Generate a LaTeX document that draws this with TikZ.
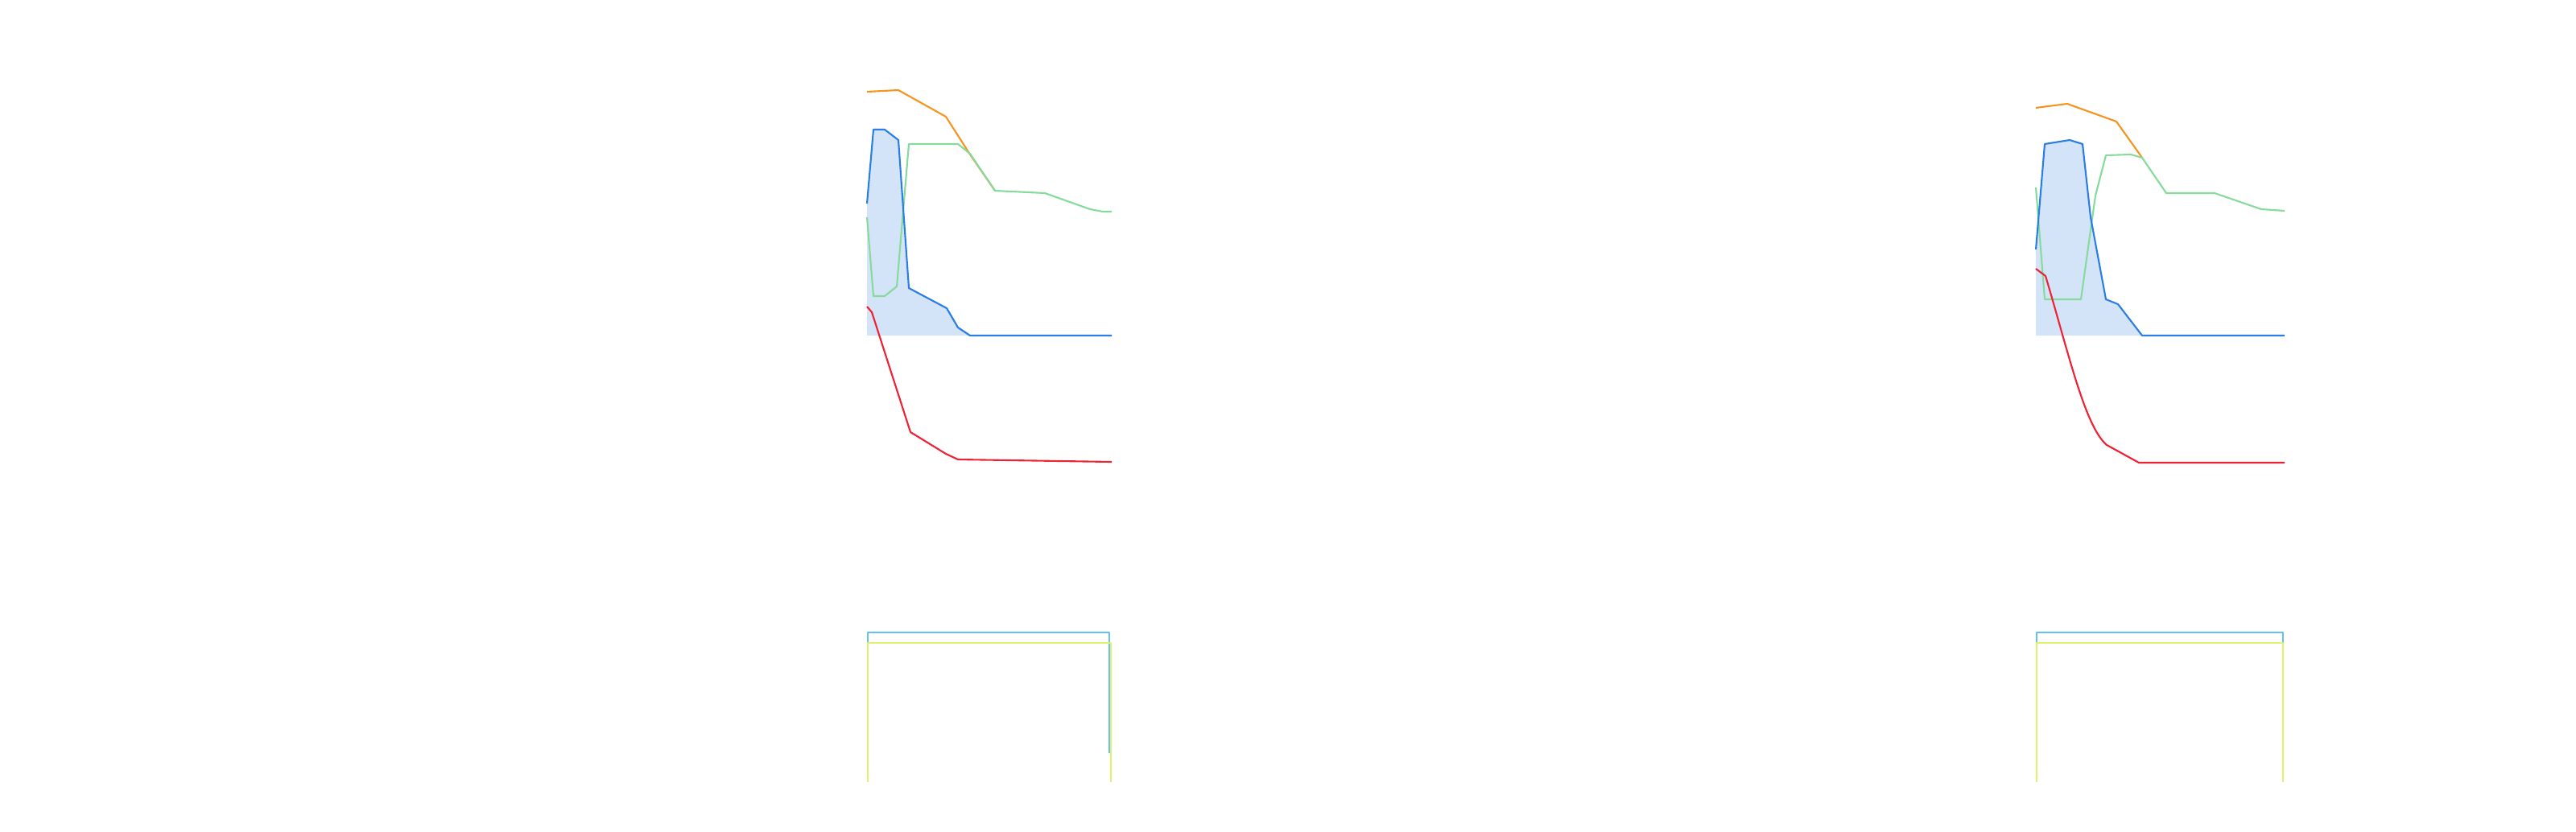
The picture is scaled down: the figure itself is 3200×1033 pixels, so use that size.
\documentclass[tikz,border=0pt]{standalone}
\definecolor{cor}{HTML}{F7931E}
\definecolor{cgr}{HTML}{86DB9C}
\definecolor{cbl}{HTML}{2B7DE6}
\definecolor{cfl}{HTML}{D3E4F9}
\definecolor{crd}{HTML}{EE2233}
\definecolor{clb}{HTML}{62C2F4}
\definecolor{cye}{HTML}{DFF26E}
\begin{document}
\begin{tikzpicture}[x=0.01cm,y=-0.01cm,line join=round,
  ln/.style={line width=0.6pt}]
\useasboundingbox[fill=white] (0,0) rectangle (3200,1033);
% left panel
\fill[cfl] (1077,417) -- (1077,253) -- (1085,161) -- (1099,161) -- (1116,174) -- (1129,358) -- (1176,383) -- (1190,407) -- (1205,417) -- cycle;
\draw[ln,cor] (1077,114) -- (1116,112) -- (1175,145) -- (1205,192) -- (1236,237);
\draw[ln,cgr] (1077,270) -- (1085,368) -- (1099,368) -- (1114,356) -- (1129,179) -- (1190,179) -- (1205,191) -- (1236,237) -- (1298,240) -- (1354,260) -- (1370,263) -- (1381,263);
\draw[ln,cbl] (1077,253) -- (1085,161) -- (1099,161) -- (1116,174) -- (1129,358) -- (1176,383) -- (1190,407) -- (1205,417) -- (1381,417);
\draw[ln,crd] (1077,381) -- (1083,388) -- (1131,537) -- (1175,564) -- (1190,571) -- (1381,574);
\draw[ln,clb] (1078,937) -- (1078,786) -- (1378,786) -- (1378,936);
\draw[ln,cye] (1078,972) -- (1078,799) -- (1380,799) -- (1380,972);
% right panel
\fill[cfl] (2529,417) -- (2529,310) -- (2540,179) -- (2571,174) -- (2587,179) -- (2597,270) -- (2616,372) -- (2631,378) -- (2661,417) -- cycle;
\draw[ln,cor] (2529,134) -- (2568,129) -- (2629,151) -- (2661,196);
\draw[ln,cgr] (2529,233) -- (2540,372) -- (2585,372) -- (2603,243) -- (2616,193) -- (2647,192) -- (2661,196) -- (2691,240) -- (2751,240) -- (2809,260) -- (2838,262);
\draw[ln,cbl] (2529,310) -- (2540,179) -- (2571,174) -- (2587,179) -- (2597,270) -- (2616,372) -- (2631,378) -- (2661,417) -- (2838,417);
\draw[ln,crd] (2529,334) -- (2541,343) .. controls (2570,440) and (2590,530) .. (2617,553) -- (2657,575) -- (2838,575);
\draw[ln,clb] (2530,938) -- (2530,786) -- (2836,786) -- (2836,938);
\draw[ln,cye] (2530,972) -- (2530,799) -- (2836,799) -- (2836,972);
\end{tikzpicture}
\end{document}
